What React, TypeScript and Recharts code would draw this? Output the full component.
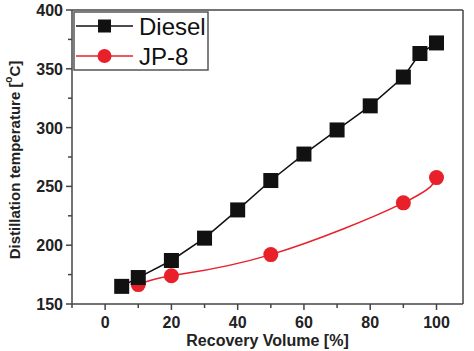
import { Legend, Line, LineChart, ReferenceLine, XAxis, YAxis } from 'recharts'

const dieselX = [5, 10, 20, 30, 40, 50, 60, 70, 80, 90, 95, 100]
const dieselY = [165, 172.5, 187, 206, 230, 255, 277.5, 298, 318.5, 343, 363, 372]
const jp8X = [10, 20, 50, 90, 100]
const jp8Y = [166.5, 174, 192, 236, 257.5]

const xTicks = [-10, 0, 10, 20, 30, 40, 50, 60, 70, 80, 90, 100]
const yTicks = [150, 175, 200, 225, 250, 275, 300, 325, 350, 375, 400]

const RED = '#e8202a'
const AXIS = '#444'
const FONT = 'Liberation Sans, Arial, sans-serif'

const diesel = dieselX.map((x, i) => ({ x, y: dieselY[i] }))
const jp8 = jp8X.map((x, i) => ({ x, y: jp8Y[i] }))

function XTick({ x, y, payload }: any) {
  const major = payload.value % 20 === 0
  return (
    <g>
      <line x1={x} y1={y} x2={x} y2={y + (major ? 6 : 4)} stroke={AXIS} strokeWidth={1.5} />
      {major && (
        <text x={x} y={y + 24} textAnchor="middle" fontFamily={FONT} fontWeight="bold" fontSize={16} fill="#222">
          {payload.value}
        </text>
      )}
    </g>
  )
}

function YTick({ x, y, payload }: any) {
  const major = payload.value % 50 === 0
  return (
    <g>
      <line x1={x} y1={y} x2={x - (major ? 6 : 4)} y2={y} stroke={AXIS} strokeWidth={1.5} />
      {major && (
        <text x={x - 9} y={y + 6} textAnchor="end" fontFamily={FONT} fontWeight="bold" fontSize={16} fill="#222">
          {payload.value}
        </text>
      )}
    </g>
  )
}

function Square({ cx, cy }: any) {
  if (cx == null || cy == null) return null
  return <rect x={cx - 7.5} y={cy - 7.5} width={15} height={15} fill="#111" />
}

function LegendBox() {
  return (
    <svg width={136} height={60} style={{ display: 'block' }}>
      <rect x={1} y={1} width={134} height={58} fill="#fff" stroke="#555" strokeWidth={1.5} />
      <line x1={3} y1={15} x2={60} y2={15} stroke="#111" strokeWidth={1.5} />
      <rect x={25} y={8.5} width={13} height={13} fill="#111" />
      <text x={66} y={23.5} fontFamily={FONT} fontSize={24} fill="#111">Diesel</text>
      <line x1={3} y1={45} x2={60} y2={45} stroke={RED} strokeWidth={1.5} />
      <circle cx={31.5} cy={45} r={7} fill={RED} />
      <text x={66} y={53.5} fontFamily={FONT} fontSize={24} fill="#111">JP-8</text>
    </svg>
  )
}

export default function App() {
  return (
    <div style={{ position: 'absolute', left: 0, top: 0, background: '#fff' }}>
      <LineChart width={474} height={351} margin={{ top: 10, right: 11, left: 0, bottom: 0 }}>
        <XAxis
          type="number"
          dataKey="x"
          domain={[-10, 108]}
          ticks={xTicks}
          allowDataOverflow
          height={47}
          tickSize={0}
          tickMargin={0}
          tickLine={false}
          tick={<XTick />}
          axisLine={{ stroke: AXIS, strokeWidth: 1.5 }}
          label={{
            content: ({ viewBox }: any) => (
              <text
                x={viewBox.x + viewBox.width / 2}
                y={viewBox.y + 42}
                textAnchor="middle"
                fontFamily={FONT}
                fontWeight="bold"
                fontSize={16}
                fill="#222"
              >
                Recovery Volume [%]
              </text>
            ),
          }}
        />
        <YAxis
          type="number"
          dataKey="y"
          domain={[150, 400]}
          ticks={yTicks}
          width={72}
          tickSize={0}
          tickMargin={0}
          tickLine={false}
          tick={<YTick />}
          axisLine={{ stroke: AXIS, strokeWidth: 1.5 }}
          label={{
            content: ({ viewBox }: any) => {
              const cx = 14
              const cy = viewBox.y + viewBox.height / 2 + 3
              return (
                <text
                  x={cx}
                  y={cy}
                  transform={`rotate(-90 ${cx} ${cy})`}
                  textAnchor="middle"
                  dominantBaseline="central"
                  fontFamily={FONT}
                  fontWeight="bold"
                  fontSize={15}
                  fill="#222"
                >
                  Distillation temperature [
                  <tspan fontSize={10} dy={-6}>o</tspan>
                  <tspan dy={6}>C]</tspan>
                </text>
              )
            },
          }}
        />
        <ReferenceLine y={400} stroke={AXIS} strokeWidth={1.5} />
        <ReferenceLine x={108} stroke={AXIS} strokeWidth={1.5} />
        <Line
          data={jp8}
          dataKey="y"
          type="natural"
          stroke={RED}
          strokeWidth={1.5}
          dot={{ r: 7.5, fill: RED, stroke: RED, strokeWidth: 0 }}
          activeDot={false}
          isAnimationActive={false}
        />
        <Line
          data={diesel}
          dataKey="y"
          type="linear"
          stroke="#111"
          strokeWidth={1.5}
          dot={<Square />}
          activeDot={false}
          isAnimationActive={false}
        />
        <Legend
          layout="vertical"
          align="center"
          verticalAlign="middle"
          content={() => <LegendBox />}
          wrapperStyle={{ position: 'absolute', left: 73, top: 11, width: 136, height: 60 }}
        />
      </LineChart>
    </div>
  )
}
